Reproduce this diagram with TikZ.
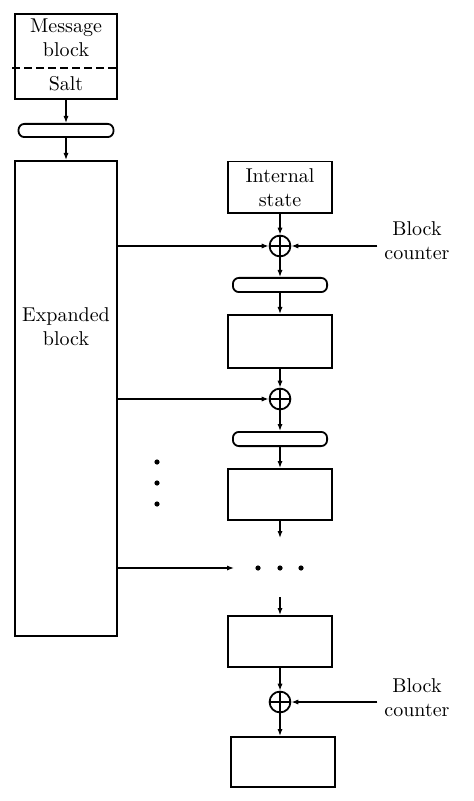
\documentclass[tikz,border=0pt]{standalone}
\usetikzlibrary{positioning,arrows.meta}
\tikzset{block/.style={rectangle,draw,line width=0.9pt,minimum width=52.3pt,minimum height=25.9pt,inner sep=0pt,align=center},
	perm/.style={rectangle,rounded corners=3pt,draw,line width=0.9pt,minimum width=47.1pt,minimum height=7.1pt,inner sep=0pt},
	xor/.style={circle,draw,line width=0.9pt,minimum size=10.4pt,inner sep=0pt,
		path picture={\draw[line width=0.9pt] (path picture bounding box.north) -- (path picture bounding box.south)
			(path picture bounding box.west) -- (path picture bounding box.east);}},
	flow/.style={line width=0.75pt,-{Latex[length=3.5pt,width=2.6pt]}},
	dot/.style={circle,fill,inner sep=0pt,minimum size=2.6pt},
}
\begin{document}
\begin{tikzpicture}[x=0.5pt,y=0.5pt]
				\useasboundingbox (0,0) rectangle (474,-801);
				% left column
				\node[block,minimum width=51.1pt,minimum height=42.6pt] (msg) at (66,-56.5) {};
				\node[align=center] (msgtext) at (66,-38) {Message\\block};
				\node (salt) at (66,-84) {Salt};
				\draw[line width=0.9pt,dash pattern=on 4pt off 2pt] (12,-68) -- (117,-68);
				\node[perm,minimum width=47.5pt,minimum height=6.6pt] (perm1) [below=11.5pt of msg] {};
				\node[block,minimum width=51.1pt,minimum height=237.6pt] (exp) [below=11pt of perm1] {};
				\node[align=center] (exptext) at (66,-327) {Expanded\\block};
				
				% right column
				\node[block] (state) at (280,-187.5) {Internal\\state};
				\node[xor] (xor1) [below=10.2pt of state] {};
				\node[perm] (perm2) [below=9.85pt of xor1] {};
				\node[block,minimum height=26.6pt] (box1) [below=10.5pt of perm2] {};
				\node[xor] (xor2) [below=9.35pt of box1] {};
				\node[perm] (perm3) [below=10.35pt of xor2] {};
				\node[block,minimum height=25.6pt] (box2) [below=10.5pt of perm3] {};
				\coordinate[below=8.5pt of box2] (gap1);
				\coordinate (gap2) at (280,-597);
				\node[block,minimum height=25.6pt] (box3) at (280,-641.5) {};
				\node[xor] (xor3) [below=11.35pt of box3] {};
				\node[block,minimum height=25.1pt] (box4) [below=11.35pt of xor3,xshift=1.5pt] {};
				
				% block counters
				\node[align=center] (ctr1) at (417,-240.5) {Block\\counter};
				\node[align=center] (ctr2) at (417,-697.5) {Block\\counter};
				
				% dots
				\node[dot] (vd1) at (157,-462) {};
				\node[dot] (vd2) at (157,-483) {};
				\node[dot] (vd3) at (157,-504) {};
				\node[dot] (hd1) at (258,-568) {};
				\node[dot] (hd2) at (280,-568) {};
				\node[dot] (hd3) at (301,-568) {};
				\coordinate (gap3) at (234,-568);
				
				\path[flow]
				(msg) edge (perm1)
				(perm1) edge (exp)
				(state) edge (xor1)
				(xor1) edge (perm2)
				(perm2) edge (box1)
				(box1) edge (xor2)
				(xor2) edge (perm3)
				(perm3) edge (box2)
				(box2) edge (gap1)
				(gap2) edge (box3)
				(box3) edge (xor3)
				(xor3) edge (xor3 |- box4.north)
				(exp.east |- xor1) edge (xor1)
				(exp.east |- xor2) edge (xor2)
				(exp.east |- gap3) edge (gap3)
				(ctr1.west |- xor1) edge (xor1)
				(ctr2.west |- xor3) edge (xor3);
				
			\end{tikzpicture}
\end{document}
